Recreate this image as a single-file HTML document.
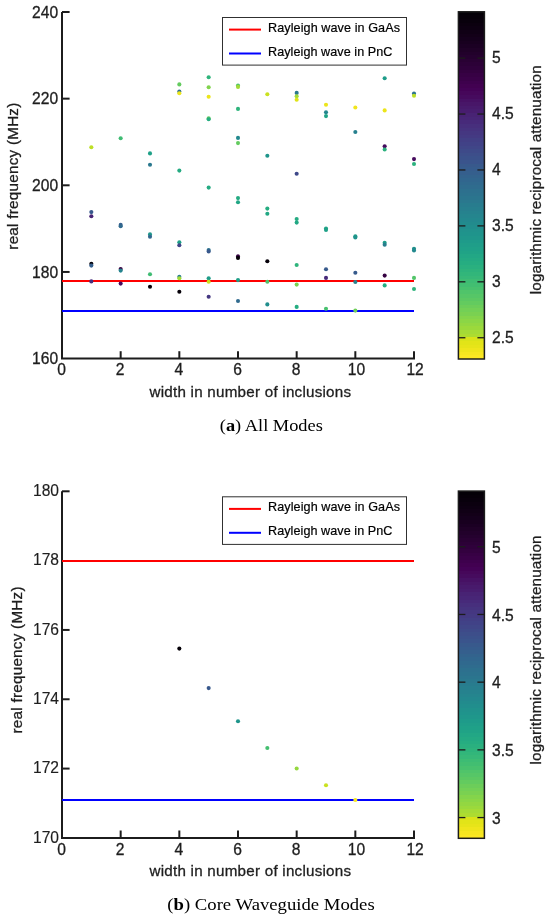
<!DOCTYPE html>
<html><head><meta charset="utf-8"><title>Figure</title><style>html,body{margin:0;padding:0;background:#fff;}
svg{display:block;}
.tk{font-family:'Liberation Sans', Arial, Helvetica, sans-serif;font-size:15.6px;fill:#1e1e1e;stroke:#1e1e1e;stroke-width:0.3px;}
.lb{font-family:'Liberation Sans', Arial, Helvetica, sans-serif;font-size:15.2px;fill:#1e1e1e;stroke:#1e1e1e;stroke-width:0.3px;}
.lg{font-family:'Liberation Sans', Arial, Helvetica, sans-serif;font-size:12.6px;fill:#000;stroke:#000;stroke-width:0.2px;}
.cap{font-family:'Liberation Serif', 'Times New Roman', serif;font-size:16.4px;fill:#000;}
</style></head>
<body>
<svg width="550" height="919" viewBox="0 0 550 919">
<rect width="550" height="919" fill="#fff"/>
<path d="M62.0,12.0 V358.6 H415.0" fill="none" stroke="#1c1c1c" stroke-width="2"/>
<text x="58.1" y="364.20" text-anchor="end" class="tk">160</text>
<line x1="62.0" y1="271.95" x2="69.6" y2="271.95" stroke="#1c1c1c" stroke-width="2"/>
<text x="58.1" y="277.55" text-anchor="end" class="tk">180</text>
<line x1="62.0" y1="185.30" x2="69.6" y2="185.30" stroke="#1c1c1c" stroke-width="2"/>
<text x="58.1" y="190.90" text-anchor="end" class="tk">200</text>
<line x1="62.0" y1="98.65" x2="69.6" y2="98.65" stroke="#1c1c1c" stroke-width="2"/>
<text x="58.1" y="104.25" text-anchor="end" class="tk">220</text>
<line x1="62.0" y1="12.00" x2="69.6" y2="12.00" stroke="#1c1c1c" stroke-width="2"/>
<text x="58.1" y="17.60" text-anchor="end" class="tk">240</text>
<text x="61.50" y="375.20" text-anchor="middle" class="tk">0</text>
<line x1="120.67" y1="358.6" x2="120.67" y2="351.20000000000005" stroke="#1c1c1c" stroke-width="2"/>
<text x="120.17" y="375.20" text-anchor="middle" class="tk">2</text>
<line x1="179.33" y1="358.6" x2="179.33" y2="351.20000000000005" stroke="#1c1c1c" stroke-width="2"/>
<text x="178.83" y="375.20" text-anchor="middle" class="tk">4</text>
<line x1="238.00" y1="358.6" x2="238.00" y2="351.20000000000005" stroke="#1c1c1c" stroke-width="2"/>
<text x="237.50" y="375.20" text-anchor="middle" class="tk">6</text>
<line x1="296.67" y1="358.6" x2="296.67" y2="351.20000000000005" stroke="#1c1c1c" stroke-width="2"/>
<text x="296.17" y="375.20" text-anchor="middle" class="tk">8</text>
<line x1="355.33" y1="358.6" x2="355.33" y2="351.20000000000005" stroke="#1c1c1c" stroke-width="2"/>
<text x="356.43" y="375.20" text-anchor="middle" class="tk">10</text>
<line x1="414.00" y1="358.6" x2="414.00" y2="351.20000000000005" stroke="#1c1c1c" stroke-width="2"/>
<text x="415.10" y="375.20" text-anchor="middle" class="tk">12</text>
<line x1="62.0" y1="281.0" x2="414.0" y2="281.0" stroke="#ff0000" stroke-width="2"/>
<line x1="62.0" y1="310.9" x2="414.0" y2="310.9" stroke="#0000ff" stroke-width="2"/>
<circle cx="91.33" cy="147.2" r="2.05" fill="#bddf26"/>
<circle cx="91.33" cy="212.1" r="2.05" fill="#38588c"/>
<circle cx="91.33" cy="216.2" r="2.05" fill="#482475"/>
<circle cx="91.33" cy="263.7" r="2.05" fill="#050008"/>
<circle cx="91.33" cy="265.6" r="2.05" fill="#355f8d"/>
<circle cx="91.33" cy="281.4" r="2.05" fill="#472e7c"/>
<circle cx="120.67" cy="138.2" r="2.05" fill="#3fbc73"/>
<circle cx="120.67" cy="224.9" r="2.05" fill="#355f8d"/>
<circle cx="120.67" cy="226.2" r="2.05" fill="#306a8e"/>
<circle cx="120.67" cy="269.1" r="2.05" fill="#360142"/>
<circle cx="120.67" cy="270.6" r="2.05" fill="#25848e"/>
<circle cx="120.67" cy="283.6" r="2.05" fill="#460b5e"/>
<circle cx="150.00" cy="153.4" r="2.05" fill="#1fa188"/>
<circle cx="150.00" cy="164.7" r="2.05" fill="#2a788e"/>
<circle cx="150.00" cy="234.4" r="2.05" fill="#1f958b"/>
<circle cx="150.00" cy="236.8" r="2.05" fill="#31678e"/>
<circle cx="150.00" cy="274.3" r="2.05" fill="#3fbc73"/>
<circle cx="150.00" cy="286.7" r="2.05" fill="#050008"/>
<circle cx="179.33" cy="84.4" r="2.05" fill="#63cb5f"/>
<circle cx="179.33" cy="91.6" r="2.05" fill="#2e6f8e"/>
<circle cx="179.33" cy="93.2" r="2.05" fill="#ece51b"/>
<circle cx="179.33" cy="170.6" r="2.05" fill="#25ab82"/>
<circle cx="179.33" cy="242.2" r="2.05" fill="#1fa188"/>
<circle cx="179.33" cy="245.2" r="2.05" fill="#414487"/>
<circle cx="179.33" cy="276.7" r="2.05" fill="#287d8e"/>
<circle cx="179.33" cy="278.3" r="2.05" fill="#a2da37"/>
<circle cx="179.33" cy="291.7" r="2.05" fill="#050008"/>
<circle cx="208.67" cy="77.2" r="2.05" fill="#2fb47c"/>
<circle cx="208.67" cy="87.2" r="2.05" fill="#81d34d"/>
<circle cx="208.67" cy="96.7" r="2.05" fill="#ece51b"/>
<circle cx="208.67" cy="118.3" r="2.05" fill="#63cb5f"/>
<circle cx="208.67" cy="119.2" r="2.05" fill="#26ad81"/>
<circle cx="208.67" cy="187.6" r="2.05" fill="#25ab82"/>
<circle cx="208.67" cy="250.0" r="2.05" fill="#2c738e"/>
<circle cx="208.67" cy="251.4" r="2.05" fill="#38588c"/>
<circle cx="208.67" cy="278.3" r="2.05" fill="#1e9c89"/>
<circle cx="208.67" cy="281.8" r="2.05" fill="#cae11f"/>
<circle cx="208.67" cy="296.7" r="2.05" fill="#453781"/>
<circle cx="238.00" cy="85.5" r="2.05" fill="#4ec36b"/>
<circle cx="238.00" cy="86.9" r="2.05" fill="#a2da37"/>
<circle cx="238.00" cy="108.9" r="2.05" fill="#2fb47c"/>
<circle cx="238.00" cy="137.9" r="2.05" fill="#23898e"/>
<circle cx="238.00" cy="143.1" r="2.05" fill="#63cb5f"/>
<circle cx="238.00" cy="198.1" r="2.05" fill="#25ab82"/>
<circle cx="238.00" cy="202.3" r="2.05" fill="#21a685"/>
<circle cx="238.00" cy="256.4" r="2.05" fill="#33013f"/>
<circle cx="238.00" cy="258.0" r="2.05" fill="#040006"/>
<circle cx="238.00" cy="280.1" r="2.05" fill="#1f9f88"/>
<circle cx="238.00" cy="301.0" r="2.05" fill="#306a8e"/>
<circle cx="267.33" cy="94.2" r="2.05" fill="#cae11f"/>
<circle cx="267.33" cy="155.7" r="2.05" fill="#1f958b"/>
<circle cx="267.33" cy="208.6" r="2.05" fill="#26ad81"/>
<circle cx="267.33" cy="213.8" r="2.05" fill="#22a884"/>
<circle cx="267.33" cy="261.2" r="2.05" fill="#060009"/>
<circle cx="267.33" cy="281.7" r="2.05" fill="#4ec36b"/>
<circle cx="267.33" cy="304.4" r="2.05" fill="#218e8d"/>
<circle cx="296.67" cy="92.9" r="2.05" fill="#2a788e"/>
<circle cx="296.67" cy="96.2" r="2.05" fill="#a2da37"/>
<circle cx="296.67" cy="99.8" r="2.05" fill="#dfe318"/>
<circle cx="296.67" cy="173.7" r="2.05" fill="#3e4989"/>
<circle cx="296.67" cy="219.0" r="2.05" fill="#25ab82"/>
<circle cx="296.67" cy="222.6" r="2.05" fill="#22a884"/>
<circle cx="296.67" cy="265.0" r="2.05" fill="#2fb47c"/>
<circle cx="296.67" cy="284.6" r="2.05" fill="#7ad151"/>
<circle cx="296.67" cy="306.9" r="2.05" fill="#26ad81"/>
<circle cx="326.00" cy="104.7" r="2.05" fill="#ece51b"/>
<circle cx="326.00" cy="112.2" r="2.05" fill="#24868e"/>
<circle cx="326.00" cy="116.1" r="2.05" fill="#20a386"/>
<circle cx="326.00" cy="228.5" r="2.05" fill="#20a386"/>
<circle cx="326.00" cy="230.0" r="2.05" fill="#1fa188"/>
<circle cx="326.00" cy="269.2" r="2.05" fill="#375a8c"/>
<circle cx="326.00" cy="277.9" r="2.05" fill="#472a7a"/>
<circle cx="326.00" cy="308.8" r="2.05" fill="#48c16e"/>
<circle cx="355.33" cy="107.5" r="2.05" fill="#f1e51d"/>
<circle cx="355.33" cy="132.0" r="2.05" fill="#27808e"/>
<circle cx="355.33" cy="236.2" r="2.05" fill="#1e9c89"/>
<circle cx="355.33" cy="237.5" r="2.05" fill="#20928c"/>
<circle cx="355.33" cy="272.7" r="2.05" fill="#375a8c"/>
<circle cx="355.33" cy="282.0" r="2.05" fill="#25848e"/>
<circle cx="355.33" cy="310.6" r="2.05" fill="#6ece58"/>
<circle cx="384.67" cy="78.3" r="2.05" fill="#1e9c89"/>
<circle cx="384.67" cy="110.4" r="2.05" fill="#ece51b"/>
<circle cx="384.67" cy="146.2" r="2.05" fill="#460b5e"/>
<circle cx="384.67" cy="149.5" r="2.05" fill="#2cb17e"/>
<circle cx="384.67" cy="242.7" r="2.05" fill="#1e9c89"/>
<circle cx="384.67" cy="244.7" r="2.05" fill="#287d8e"/>
<circle cx="384.67" cy="275.6" r="2.05" fill="#360142"/>
<circle cx="384.67" cy="285.4" r="2.05" fill="#26ad81"/>
<circle cx="414.00" cy="93.5" r="2.05" fill="#2c738e"/>
<circle cx="414.00" cy="95.7" r="2.05" fill="#bddf26"/>
<circle cx="414.00" cy="159.1" r="2.05" fill="#460b5e"/>
<circle cx="414.00" cy="164.0" r="2.05" fill="#2cb17e"/>
<circle cx="414.00" cy="248.8" r="2.05" fill="#21918c"/>
<circle cx="414.00" cy="250.4" r="2.05" fill="#23898e"/>
<circle cx="414.00" cy="277.9" r="2.05" fill="#52c569"/>
<circle cx="414.00" cy="289.0" r="2.05" fill="#2fb47c"/>
<rect x="222.5" y="17.5" width="184" height="47.6" fill="#fff" stroke="#303030" stroke-width="1"/>
<line x1="229" y1="29.6" x2="261" y2="29.6" stroke="#ff0000" stroke-width="2"/>
<line x1="229" y1="53.5" x2="261" y2="53.5" stroke="#0000ff" stroke-width="2"/>
<text x="268" y="32.1" class="lg" textLength="132" lengthAdjust="spacing">Rayleigh wave in GaAs</text>
<text x="268" y="56.0" class="lg" textLength="124.4" lengthAdjust="spacing">Rayleigh wave in PnC</text>
<defs><linearGradient id="g1" x1="0" y1="0" x2="0" y2="1"><stop offset="0.0000" stop-color="#040007"/><stop offset="0.0104" stop-color="#040007"/><stop offset="0.0104" stop-color="#060009"/><stop offset="0.0208" stop-color="#060009"/><stop offset="0.0208" stop-color="#08000c"/><stop offset="0.0312" stop-color="#08000c"/><stop offset="0.0312" stop-color="#0b000f"/><stop offset="0.0417" stop-color="#0b000f"/><stop offset="0.0417" stop-color="#0d0012"/><stop offset="0.0521" stop-color="#0d0012"/><stop offset="0.0521" stop-color="#100015"/><stop offset="0.0625" stop-color="#100015"/><stop offset="0.0625" stop-color="#130018"/><stop offset="0.0729" stop-color="#130018"/><stop offset="0.0729" stop-color="#15001c"/><stop offset="0.0833" stop-color="#15001c"/><stop offset="0.0833" stop-color="#18001f"/><stop offset="0.0938" stop-color="#18001f"/><stop offset="0.0938" stop-color="#1b0023"/><stop offset="0.1042" stop-color="#1b0023"/><stop offset="0.1042" stop-color="#1f0127"/><stop offset="0.1146" stop-color="#1f0127"/><stop offset="0.1146" stop-color="#22012b"/><stop offset="0.1250" stop-color="#22012b"/><stop offset="0.1250" stop-color="#25012f"/><stop offset="0.1354" stop-color="#25012f"/><stop offset="0.1354" stop-color="#290133"/><stop offset="0.1458" stop-color="#290133"/><stop offset="0.1458" stop-color="#2c0137"/><stop offset="0.1562" stop-color="#2c0137"/><stop offset="0.1562" stop-color="#2f013b"/><stop offset="0.1667" stop-color="#2f013b"/><stop offset="0.1667" stop-color="#33013f"/><stop offset="0.1771" stop-color="#33013f"/><stop offset="0.1771" stop-color="#370144"/><stop offset="0.1875" stop-color="#370144"/><stop offset="0.1875" stop-color="#3a0148"/><stop offset="0.1979" stop-color="#3a0148"/><stop offset="0.1979" stop-color="#3e014d"/><stop offset="0.2083" stop-color="#3e014d"/><stop offset="0.2083" stop-color="#420151"/><stop offset="0.2188" stop-color="#420151"/><stop offset="0.2188" stop-color="#440256"/><stop offset="0.2292" stop-color="#440256"/><stop offset="0.2292" stop-color="#46075a"/><stop offset="0.2396" stop-color="#46075a"/><stop offset="0.2396" stop-color="#460b5e"/><stop offset="0.2500" stop-color="#460b5e"/><stop offset="0.2500" stop-color="#471164"/><stop offset="0.2604" stop-color="#471164"/><stop offset="0.2604" stop-color="#481668"/><stop offset="0.2708" stop-color="#481668"/><stop offset="0.2708" stop-color="#481a6c"/><stop offset="0.2812" stop-color="#481a6c"/><stop offset="0.2812" stop-color="#481d6f"/><stop offset="0.2917" stop-color="#481d6f"/><stop offset="0.2917" stop-color="#482374"/><stop offset="0.3021" stop-color="#482374"/><stop offset="0.3021" stop-color="#482677"/><stop offset="0.3125" stop-color="#482677"/><stop offset="0.3125" stop-color="#472a7a"/><stop offset="0.3229" stop-color="#472a7a"/><stop offset="0.3229" stop-color="#472f7d"/><stop offset="0.3333" stop-color="#472f7d"/><stop offset="0.3333" stop-color="#46337f"/><stop offset="0.3438" stop-color="#46337f"/><stop offset="0.3438" stop-color="#453781"/><stop offset="0.3542" stop-color="#453781"/><stop offset="0.3542" stop-color="#443a83"/><stop offset="0.3646" stop-color="#443a83"/><stop offset="0.3646" stop-color="#423f85"/><stop offset="0.3750" stop-color="#423f85"/><stop offset="0.3750" stop-color="#414287"/><stop offset="0.3854" stop-color="#414287"/><stop offset="0.3854" stop-color="#404688"/><stop offset="0.3958" stop-color="#404688"/><stop offset="0.3958" stop-color="#3e4a89"/><stop offset="0.4062" stop-color="#3e4a89"/><stop offset="0.4062" stop-color="#3d4e8a"/><stop offset="0.4167" stop-color="#3d4e8a"/><stop offset="0.4167" stop-color="#3b518b"/><stop offset="0.4271" stop-color="#3b518b"/><stop offset="0.4271" stop-color="#3a548c"/><stop offset="0.4375" stop-color="#3a548c"/><stop offset="0.4375" stop-color="#38598c"/><stop offset="0.4479" stop-color="#38598c"/><stop offset="0.4479" stop-color="#365c8d"/><stop offset="0.4583" stop-color="#365c8d"/><stop offset="0.4583" stop-color="#355f8d"/><stop offset="0.4688" stop-color="#355f8d"/><stop offset="0.4688" stop-color="#33638d"/><stop offset="0.4792" stop-color="#33638d"/><stop offset="0.4792" stop-color="#31668e"/><stop offset="0.4896" stop-color="#31668e"/><stop offset="0.4896" stop-color="#30698e"/><stop offset="0.5000" stop-color="#30698e"/><stop offset="0.5000" stop-color="#2f6c8e"/><stop offset="0.5104" stop-color="#2f6c8e"/><stop offset="0.5104" stop-color="#2d708e"/><stop offset="0.5208" stop-color="#2d708e"/><stop offset="0.5208" stop-color="#2c728e"/><stop offset="0.5312" stop-color="#2c728e"/><stop offset="0.5312" stop-color="#2b758e"/><stop offset="0.5417" stop-color="#2b758e"/><stop offset="0.5417" stop-color="#2a788e"/><stop offset="0.5521" stop-color="#2a788e"/><stop offset="0.5521" stop-color="#287c8e"/><stop offset="0.5625" stop-color="#287c8e"/><stop offset="0.5625" stop-color="#277f8e"/><stop offset="0.5729" stop-color="#277f8e"/><stop offset="0.5729" stop-color="#26828e"/><stop offset="0.5833" stop-color="#26828e"/><stop offset="0.5833" stop-color="#25858e"/><stop offset="0.5938" stop-color="#25858e"/><stop offset="0.5938" stop-color="#23888e"/><stop offset="0.6042" stop-color="#23888e"/><stop offset="0.6042" stop-color="#228b8d"/><stop offset="0.6146" stop-color="#228b8d"/><stop offset="0.6146" stop-color="#218e8d"/><stop offset="0.6250" stop-color="#218e8d"/><stop offset="0.6250" stop-color="#20928c"/><stop offset="0.6354" stop-color="#20928c"/><stop offset="0.6354" stop-color="#1f948c"/><stop offset="0.6458" stop-color="#1f948c"/><stop offset="0.6458" stop-color="#1f978b"/><stop offset="0.6562" stop-color="#1f978b"/><stop offset="0.6562" stop-color="#1e9b8a"/><stop offset="0.6667" stop-color="#1e9b8a"/><stop offset="0.6667" stop-color="#1f9e89"/><stop offset="0.6771" stop-color="#1f9e89"/><stop offset="0.6771" stop-color="#1fa188"/><stop offset="0.6875" stop-color="#1fa188"/><stop offset="0.6875" stop-color="#20a386"/><stop offset="0.6979" stop-color="#20a386"/><stop offset="0.6979" stop-color="#22a785"/><stop offset="0.7083" stop-color="#22a785"/><stop offset="0.7083" stop-color="#24aa83"/><stop offset="0.7188" stop-color="#24aa83"/><stop offset="0.7188" stop-color="#26ad81"/><stop offset="0.7292" stop-color="#26ad81"/><stop offset="0.7292" stop-color="#2ab07f"/><stop offset="0.7396" stop-color="#2ab07f"/><stop offset="0.7396" stop-color="#2eb37c"/><stop offset="0.7500" stop-color="#2eb37c"/><stop offset="0.7500" stop-color="#32b67a"/><stop offset="0.7604" stop-color="#32b67a"/><stop offset="0.7604" stop-color="#37b878"/><stop offset="0.7708" stop-color="#37b878"/><stop offset="0.7708" stop-color="#3dbc74"/><stop offset="0.7812" stop-color="#3dbc74"/><stop offset="0.7812" stop-color="#42be71"/><stop offset="0.7917" stop-color="#42be71"/><stop offset="0.7917" stop-color="#48c16e"/><stop offset="0.8021" stop-color="#48c16e"/><stop offset="0.8021" stop-color="#50c46a"/><stop offset="0.8125" stop-color="#50c46a"/><stop offset="0.8125" stop-color="#56c667"/><stop offset="0.8229" stop-color="#56c667"/><stop offset="0.8229" stop-color="#5cc863"/><stop offset="0.8333" stop-color="#5cc863"/><stop offset="0.8333" stop-color="#63cb5f"/><stop offset="0.8438" stop-color="#63cb5f"/><stop offset="0.8438" stop-color="#6ccd5a"/><stop offset="0.8542" stop-color="#6ccd5a"/><stop offset="0.8542" stop-color="#73d056"/><stop offset="0.8646" stop-color="#73d056"/><stop offset="0.8646" stop-color="#7ad151"/><stop offset="0.8750" stop-color="#7ad151"/><stop offset="0.8750" stop-color="#84d44b"/><stop offset="0.8854" stop-color="#84d44b"/><stop offset="0.8854" stop-color="#8bd646"/><stop offset="0.8958" stop-color="#8bd646"/><stop offset="0.8958" stop-color="#93d741"/><stop offset="0.9062" stop-color="#93d741"/><stop offset="0.9062" stop-color="#9bd93c"/><stop offset="0.9167" stop-color="#9bd93c"/><stop offset="0.9167" stop-color="#a5db36"/><stop offset="0.9271" stop-color="#a5db36"/><stop offset="0.9271" stop-color="#addc30"/><stop offset="0.9375" stop-color="#addc30"/><stop offset="0.9375" stop-color="#dae319"/><stop offset="0.9479" stop-color="#dae319"/><stop offset="0.9479" stop-color="#e2e418"/><stop offset="0.9583" stop-color="#e2e418"/><stop offset="0.9583" stop-color="#e7e419"/><stop offset="0.9688" stop-color="#e7e419"/><stop offset="0.9688" stop-color="#efe51c"/><stop offset="0.9792" stop-color="#efe51c"/><stop offset="0.9792" stop-color="#f6e620"/><stop offset="0.9896" stop-color="#f6e620"/><stop offset="0.9896" stop-color="#fbe723"/><stop offset="1.0000" stop-color="#fbe723"/></linearGradient></defs>
<rect x="458.4" y="11.8" width="26.0" height="347.2" fill="url(#g1)" stroke="#1c1c1c" stroke-width="1.5"/>
<line x1="458.4" y1="58.11" x2="465.4" y2="58.11" stroke="#1c1c1c" stroke-width="1.3"/>
<line x1="477.4" y1="58.11" x2="484.4" y2="58.11" stroke="#1c1c1c" stroke-width="1.3"/>
<text x="492.0" y="63.01" class="tk">5</text>
<line x1="458.4" y1="114.04" x2="465.4" y2="114.04" stroke="#1c1c1c" stroke-width="1.3"/>
<line x1="477.4" y1="114.04" x2="484.4" y2="114.04" stroke="#1c1c1c" stroke-width="1.3"/>
<text x="492.0" y="118.94" class="tk">4.5</text>
<line x1="458.4" y1="169.96" x2="465.4" y2="169.96" stroke="#1c1c1c" stroke-width="1.3"/>
<line x1="477.4" y1="169.96" x2="484.4" y2="169.96" stroke="#1c1c1c" stroke-width="1.3"/>
<text x="492.0" y="174.86" class="tk">4</text>
<line x1="458.4" y1="225.89" x2="465.4" y2="225.89" stroke="#1c1c1c" stroke-width="1.3"/>
<line x1="477.4" y1="225.89" x2="484.4" y2="225.89" stroke="#1c1c1c" stroke-width="1.3"/>
<text x="492.0" y="230.79" class="tk">3.5</text>
<line x1="458.4" y1="281.82" x2="465.4" y2="281.82" stroke="#1c1c1c" stroke-width="1.3"/>
<line x1="477.4" y1="281.82" x2="484.4" y2="281.82" stroke="#1c1c1c" stroke-width="1.3"/>
<text x="492.0" y="286.72" class="tk">3</text>
<line x1="458.4" y1="337.75" x2="465.4" y2="337.75" stroke="#1c1c1c" stroke-width="1.3"/>
<line x1="477.4" y1="337.75" x2="484.4" y2="337.75" stroke="#1c1c1c" stroke-width="1.3"/>
<text x="492.0" y="342.65" class="tk">2.5</text>
<text transform="translate(541.0,179.8) rotate(-90)" text-anchor="middle" class="lb" textLength="229" lengthAdjust="spacing">logarithmic reciprocal attenuation</text>
<text transform="translate(17.8,176.2) rotate(-90)" text-anchor="middle" class="lb" textLength="147" lengthAdjust="spacing">real frequency (MHz)</text>
<text x="250.3" y="397.0" text-anchor="middle" class="lb" textLength="201.5" lengthAdjust="spacing">width in number of inclusions</text>
<text x="271.3" y="430.7" text-anchor="middle" class="cap" textLength="103" lengthAdjust="spacingAndGlyphs">(<tspan font-weight="bold">a</tspan>) All Modes</text>
<path d="M62.0,491.3 V837.9000000000001 H415.0" fill="none" stroke="#1c1c1c" stroke-width="2"/>
<text x="59.0" y="842.50" text-anchor="end" class="tk" style="stroke-width:0.15px">170</text>
<line x1="62.0" y1="768.58" x2="69.6" y2="768.58" stroke="#1c1c1c" stroke-width="2"/>
<text x="59.0" y="773.18" text-anchor="end" class="tk" style="stroke-width:0.15px">172</text>
<line x1="62.0" y1="699.26" x2="69.6" y2="699.26" stroke="#1c1c1c" stroke-width="2"/>
<text x="59.0" y="703.86" text-anchor="end" class="tk" style="stroke-width:0.15px">174</text>
<line x1="62.0" y1="629.94" x2="69.6" y2="629.94" stroke="#1c1c1c" stroke-width="2"/>
<text x="59.0" y="634.54" text-anchor="end" class="tk" style="stroke-width:0.15px">176</text>
<text x="59.0" y="565.22" text-anchor="end" class="tk" style="stroke-width:0.15px">178</text>
<line x1="62.0" y1="491.30" x2="69.6" y2="491.30" stroke="#1c1c1c" stroke-width="2"/>
<text x="59.0" y="495.90" text-anchor="end" class="tk" style="stroke-width:0.15px">180</text>
<text x="61.50" y="854.50" text-anchor="middle" class="tk">0</text>
<line x1="120.67" y1="837.9000000000001" x2="120.67" y2="830.5000000000001" stroke="#1c1c1c" stroke-width="2"/>
<text x="120.17" y="854.50" text-anchor="middle" class="tk">2</text>
<line x1="179.33" y1="837.9000000000001" x2="179.33" y2="830.5000000000001" stroke="#1c1c1c" stroke-width="2"/>
<text x="178.83" y="854.50" text-anchor="middle" class="tk">4</text>
<line x1="238.00" y1="837.9000000000001" x2="238.00" y2="830.5000000000001" stroke="#1c1c1c" stroke-width="2"/>
<text x="237.50" y="854.50" text-anchor="middle" class="tk">6</text>
<line x1="296.67" y1="837.9000000000001" x2="296.67" y2="830.5000000000001" stroke="#1c1c1c" stroke-width="2"/>
<text x="296.17" y="854.50" text-anchor="middle" class="tk">8</text>
<line x1="355.33" y1="837.9000000000001" x2="355.33" y2="830.5000000000001" stroke="#1c1c1c" stroke-width="2"/>
<text x="356.43" y="854.50" text-anchor="middle" class="tk">10</text>
<line x1="414.00" y1="837.9000000000001" x2="414.00" y2="830.5000000000001" stroke="#1c1c1c" stroke-width="2"/>
<text x="415.10" y="854.50" text-anchor="middle" class="tk">12</text>
<line x1="62.0" y1="561.0" x2="414.0" y2="561.0" stroke="#ff0000" stroke-width="2"/>
<line x1="62.0" y1="799.9" x2="414.0" y2="799.9" stroke="#0000ff" stroke-width="2"/>
<circle cx="179.33" cy="648.6" r="2.05" fill="#050008"/>
<circle cx="208.67" cy="688.1" r="2.05" fill="#38588c"/>
<circle cx="238.00" cy="721.3" r="2.05" fill="#1f958b"/>
<circle cx="267.33" cy="748.0" r="2.05" fill="#44bf70"/>
<circle cx="296.67" cy="768.5" r="2.05" fill="#95d840"/>
<circle cx="326.00" cy="785.2" r="2.05" fill="#cae11f"/>
<circle cx="355.33" cy="800.0" r="2.05" fill="#f6e620"/>
<rect x="222.5" y="496.8" width="184" height="47.6" fill="#fff" stroke="#303030" stroke-width="1"/>
<line x1="229" y1="508.90000000000003" x2="261" y2="508.90000000000003" stroke="#ff0000" stroke-width="2"/>
<line x1="229" y1="532.8" x2="261" y2="532.8" stroke="#0000ff" stroke-width="2"/>
<text x="268" y="511.40000000000003" class="lg" textLength="132" lengthAdjust="spacing">Rayleigh wave in GaAs</text>
<text x="268" y="535.3" class="lg" textLength="124.4" lengthAdjust="spacing">Rayleigh wave in PnC</text>
<defs><linearGradient id="g2" x1="0" y1="0" x2="0" y2="1"><stop offset="0.0000" stop-color="#040007"/><stop offset="0.0104" stop-color="#040007"/><stop offset="0.0104" stop-color="#060009"/><stop offset="0.0208" stop-color="#060009"/><stop offset="0.0208" stop-color="#08000c"/><stop offset="0.0312" stop-color="#08000c"/><stop offset="0.0312" stop-color="#0b000f"/><stop offset="0.0417" stop-color="#0b000f"/><stop offset="0.0417" stop-color="#0d0012"/><stop offset="0.0521" stop-color="#0d0012"/><stop offset="0.0521" stop-color="#100015"/><stop offset="0.0625" stop-color="#100015"/><stop offset="0.0625" stop-color="#130018"/><stop offset="0.0729" stop-color="#130018"/><stop offset="0.0729" stop-color="#15001c"/><stop offset="0.0833" stop-color="#15001c"/><stop offset="0.0833" stop-color="#18001f"/><stop offset="0.0938" stop-color="#18001f"/><stop offset="0.0938" stop-color="#1b0023"/><stop offset="0.1042" stop-color="#1b0023"/><stop offset="0.1042" stop-color="#1f0127"/><stop offset="0.1146" stop-color="#1f0127"/><stop offset="0.1146" stop-color="#22012b"/><stop offset="0.1250" stop-color="#22012b"/><stop offset="0.1250" stop-color="#25012f"/><stop offset="0.1354" stop-color="#25012f"/><stop offset="0.1354" stop-color="#290133"/><stop offset="0.1458" stop-color="#290133"/><stop offset="0.1458" stop-color="#2c0137"/><stop offset="0.1562" stop-color="#2c0137"/><stop offset="0.1562" stop-color="#2f013b"/><stop offset="0.1667" stop-color="#2f013b"/><stop offset="0.1667" stop-color="#33013f"/><stop offset="0.1771" stop-color="#33013f"/><stop offset="0.1771" stop-color="#370144"/><stop offset="0.1875" stop-color="#370144"/><stop offset="0.1875" stop-color="#3a0148"/><stop offset="0.1979" stop-color="#3a0148"/><stop offset="0.1979" stop-color="#3e014d"/><stop offset="0.2083" stop-color="#3e014d"/><stop offset="0.2083" stop-color="#420151"/><stop offset="0.2188" stop-color="#420151"/><stop offset="0.2188" stop-color="#440256"/><stop offset="0.2292" stop-color="#440256"/><stop offset="0.2292" stop-color="#46075a"/><stop offset="0.2396" stop-color="#46075a"/><stop offset="0.2396" stop-color="#460b5e"/><stop offset="0.2500" stop-color="#460b5e"/><stop offset="0.2500" stop-color="#471164"/><stop offset="0.2604" stop-color="#471164"/><stop offset="0.2604" stop-color="#481668"/><stop offset="0.2708" stop-color="#481668"/><stop offset="0.2708" stop-color="#481a6c"/><stop offset="0.2812" stop-color="#481a6c"/><stop offset="0.2812" stop-color="#481d6f"/><stop offset="0.2917" stop-color="#481d6f"/><stop offset="0.2917" stop-color="#482374"/><stop offset="0.3021" stop-color="#482374"/><stop offset="0.3021" stop-color="#482677"/><stop offset="0.3125" stop-color="#482677"/><stop offset="0.3125" stop-color="#472a7a"/><stop offset="0.3229" stop-color="#472a7a"/><stop offset="0.3229" stop-color="#472f7d"/><stop offset="0.3333" stop-color="#472f7d"/><stop offset="0.3333" stop-color="#46337f"/><stop offset="0.3438" stop-color="#46337f"/><stop offset="0.3438" stop-color="#453781"/><stop offset="0.3542" stop-color="#453781"/><stop offset="0.3542" stop-color="#443a83"/><stop offset="0.3646" stop-color="#443a83"/><stop offset="0.3646" stop-color="#423f85"/><stop offset="0.3750" stop-color="#423f85"/><stop offset="0.3750" stop-color="#414287"/><stop offset="0.3854" stop-color="#414287"/><stop offset="0.3854" stop-color="#404688"/><stop offset="0.3958" stop-color="#404688"/><stop offset="0.3958" stop-color="#3e4a89"/><stop offset="0.4062" stop-color="#3e4a89"/><stop offset="0.4062" stop-color="#3d4e8a"/><stop offset="0.4167" stop-color="#3d4e8a"/><stop offset="0.4167" stop-color="#3b518b"/><stop offset="0.4271" stop-color="#3b518b"/><stop offset="0.4271" stop-color="#3a548c"/><stop offset="0.4375" stop-color="#3a548c"/><stop offset="0.4375" stop-color="#38598c"/><stop offset="0.4479" stop-color="#38598c"/><stop offset="0.4479" stop-color="#365c8d"/><stop offset="0.4583" stop-color="#365c8d"/><stop offset="0.4583" stop-color="#355f8d"/><stop offset="0.4688" stop-color="#355f8d"/><stop offset="0.4688" stop-color="#33638d"/><stop offset="0.4792" stop-color="#33638d"/><stop offset="0.4792" stop-color="#31668e"/><stop offset="0.4896" stop-color="#31668e"/><stop offset="0.4896" stop-color="#30698e"/><stop offset="0.5000" stop-color="#30698e"/><stop offset="0.5000" stop-color="#2f6c8e"/><stop offset="0.5104" stop-color="#2f6c8e"/><stop offset="0.5104" stop-color="#2d708e"/><stop offset="0.5208" stop-color="#2d708e"/><stop offset="0.5208" stop-color="#2c728e"/><stop offset="0.5312" stop-color="#2c728e"/><stop offset="0.5312" stop-color="#2b758e"/><stop offset="0.5417" stop-color="#2b758e"/><stop offset="0.5417" stop-color="#2a788e"/><stop offset="0.5521" stop-color="#2a788e"/><stop offset="0.5521" stop-color="#287c8e"/><stop offset="0.5625" stop-color="#287c8e"/><stop offset="0.5625" stop-color="#277f8e"/><stop offset="0.5729" stop-color="#277f8e"/><stop offset="0.5729" stop-color="#26828e"/><stop offset="0.5833" stop-color="#26828e"/><stop offset="0.5833" stop-color="#25858e"/><stop offset="0.5938" stop-color="#25858e"/><stop offset="0.5938" stop-color="#23888e"/><stop offset="0.6042" stop-color="#23888e"/><stop offset="0.6042" stop-color="#228b8d"/><stop offset="0.6146" stop-color="#228b8d"/><stop offset="0.6146" stop-color="#218e8d"/><stop offset="0.6250" stop-color="#218e8d"/><stop offset="0.6250" stop-color="#20928c"/><stop offset="0.6354" stop-color="#20928c"/><stop offset="0.6354" stop-color="#1f948c"/><stop offset="0.6458" stop-color="#1f948c"/><stop offset="0.6458" stop-color="#1f978b"/><stop offset="0.6562" stop-color="#1f978b"/><stop offset="0.6562" stop-color="#1e9b8a"/><stop offset="0.6667" stop-color="#1e9b8a"/><stop offset="0.6667" stop-color="#1f9e89"/><stop offset="0.6771" stop-color="#1f9e89"/><stop offset="0.6771" stop-color="#1fa188"/><stop offset="0.6875" stop-color="#1fa188"/><stop offset="0.6875" stop-color="#20a386"/><stop offset="0.6979" stop-color="#20a386"/><stop offset="0.6979" stop-color="#22a785"/><stop offset="0.7083" stop-color="#22a785"/><stop offset="0.7083" stop-color="#24aa83"/><stop offset="0.7188" stop-color="#24aa83"/><stop offset="0.7188" stop-color="#26ad81"/><stop offset="0.7292" stop-color="#26ad81"/><stop offset="0.7292" stop-color="#2ab07f"/><stop offset="0.7396" stop-color="#2ab07f"/><stop offset="0.7396" stop-color="#2eb37c"/><stop offset="0.7500" stop-color="#2eb37c"/><stop offset="0.7500" stop-color="#32b67a"/><stop offset="0.7604" stop-color="#32b67a"/><stop offset="0.7604" stop-color="#37b878"/><stop offset="0.7708" stop-color="#37b878"/><stop offset="0.7708" stop-color="#3dbc74"/><stop offset="0.7812" stop-color="#3dbc74"/><stop offset="0.7812" stop-color="#42be71"/><stop offset="0.7917" stop-color="#42be71"/><stop offset="0.7917" stop-color="#48c16e"/><stop offset="0.8021" stop-color="#48c16e"/><stop offset="0.8021" stop-color="#50c46a"/><stop offset="0.8125" stop-color="#50c46a"/><stop offset="0.8125" stop-color="#56c667"/><stop offset="0.8229" stop-color="#56c667"/><stop offset="0.8229" stop-color="#5cc863"/><stop offset="0.8333" stop-color="#5cc863"/><stop offset="0.8333" stop-color="#63cb5f"/><stop offset="0.8438" stop-color="#63cb5f"/><stop offset="0.8438" stop-color="#6ccd5a"/><stop offset="0.8542" stop-color="#6ccd5a"/><stop offset="0.8542" stop-color="#73d056"/><stop offset="0.8646" stop-color="#73d056"/><stop offset="0.8646" stop-color="#7ad151"/><stop offset="0.8750" stop-color="#7ad151"/><stop offset="0.8750" stop-color="#84d44b"/><stop offset="0.8854" stop-color="#84d44b"/><stop offset="0.8854" stop-color="#8bd646"/><stop offset="0.8958" stop-color="#8bd646"/><stop offset="0.8958" stop-color="#93d741"/><stop offset="0.9062" stop-color="#93d741"/><stop offset="0.9062" stop-color="#9bd93c"/><stop offset="0.9167" stop-color="#9bd93c"/><stop offset="0.9167" stop-color="#a5db36"/><stop offset="0.9271" stop-color="#a5db36"/><stop offset="0.9271" stop-color="#addc30"/><stop offset="0.9375" stop-color="#addc30"/><stop offset="0.9375" stop-color="#dae319"/><stop offset="0.9479" stop-color="#dae319"/><stop offset="0.9479" stop-color="#e2e418"/><stop offset="0.9583" stop-color="#e2e418"/><stop offset="0.9583" stop-color="#e7e419"/><stop offset="0.9688" stop-color="#e7e419"/><stop offset="0.9688" stop-color="#efe51c"/><stop offset="0.9792" stop-color="#efe51c"/><stop offset="0.9792" stop-color="#f6e620"/><stop offset="0.9896" stop-color="#f6e620"/><stop offset="0.9896" stop-color="#fbe723"/><stop offset="1.0000" stop-color="#fbe723"/></linearGradient></defs>
<rect x="458.4" y="491.1" width="26.0" height="347.19999999999993" fill="url(#g2)" stroke="#1c1c1c" stroke-width="1.5"/>
<line x1="458.4" y1="546.75" x2="465.4" y2="546.75" stroke="#1c1c1c" stroke-width="1.3"/>
<line x1="477.4" y1="546.75" x2="484.4" y2="546.75" stroke="#1c1c1c" stroke-width="1.3"/>
<text x="492.0" y="552.85" class="tk">5</text>
<line x1="458.4" y1="614.46" x2="465.4" y2="614.46" stroke="#1c1c1c" stroke-width="1.3"/>
<line x1="477.4" y1="614.46" x2="484.4" y2="614.46" stroke="#1c1c1c" stroke-width="1.3"/>
<text x="492.0" y="620.56" class="tk">4.5</text>
<line x1="458.4" y1="682.16" x2="465.4" y2="682.16" stroke="#1c1c1c" stroke-width="1.3"/>
<line x1="477.4" y1="682.16" x2="484.4" y2="682.16" stroke="#1c1c1c" stroke-width="1.3"/>
<text x="492.0" y="688.26" class="tk">4</text>
<line x1="458.4" y1="749.87" x2="465.4" y2="749.87" stroke="#1c1c1c" stroke-width="1.3"/>
<line x1="477.4" y1="749.87" x2="484.4" y2="749.87" stroke="#1c1c1c" stroke-width="1.3"/>
<text x="492.0" y="755.97" class="tk">3.5</text>
<line x1="458.4" y1="817.58" x2="465.4" y2="817.58" stroke="#1c1c1c" stroke-width="1.3"/>
<line x1="477.4" y1="817.58" x2="484.4" y2="817.58" stroke="#1c1c1c" stroke-width="1.3"/>
<text x="492.0" y="823.68" class="tk">3</text>
<text transform="translate(541.0,650.0) rotate(-90)" text-anchor="middle" class="lb" textLength="229" lengthAdjust="spacing">logarithmic reciprocal attenuation</text>
<text transform="translate(21.5,660.0) rotate(-90)" text-anchor="middle" class="lb" textLength="147" lengthAdjust="spacing">real frequency (MHz)</text>
<text x="250.3" y="875.6" text-anchor="middle" class="lb" textLength="201.5" lengthAdjust="spacing">width in number of inclusions</text>
<text x="271.0" y="909.6" text-anchor="middle" class="cap" textLength="207.4" lengthAdjust="spacingAndGlyphs">(<tspan font-weight="bold">b</tspan>) Core Waveguide Modes</text>
</svg>
</body></html>
